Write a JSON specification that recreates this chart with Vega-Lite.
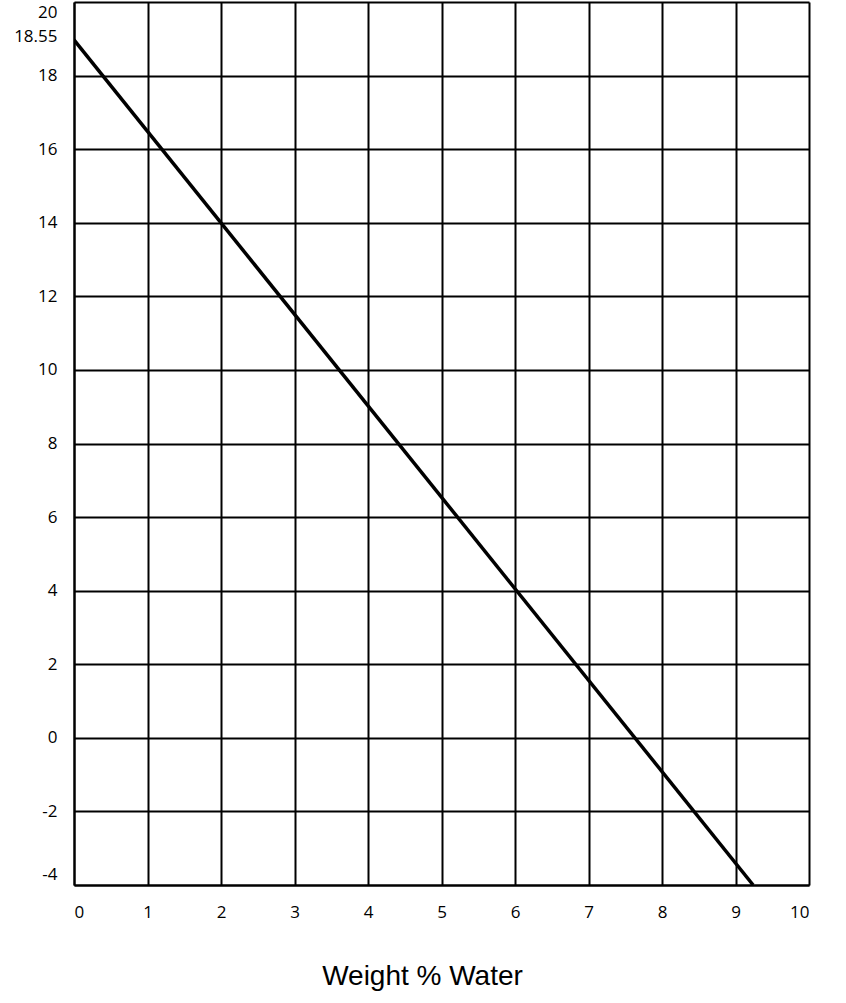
{
  "$schema": "https://vega.github.io/schema/vega-lite/v6.json",
  "autosize": "none",
  "padding": {"left": 74, "top": 2, "right": 37, "bottom": 118},
  "width": 735,
  "height": 883,
  "background": "white",
  "data": {"values": [
    {"water": 0, "value": 18.97},
    {"water": 9.24, "value": -4}
  ]},
  "config": {"view": {"stroke": null}},
  "mark": {"type": "line", "color": "black", "strokeWidth": 3.5, "clip": true},
  "encoding": {
    "x": {
      "field": "water", "type": "quantitative",
      "scale": {"domain": [0, 10], "nice": false, "zero": false},
      "axis": {
        "values": [0,1,2,3,4,5,6,7,8,9,10],
        "title": "Weight % Water",
        "titleFont": "Liberation Sans", "titleFontSize": 28, "titleFontWeight": "normal", "titleColor": "black",
        "titlePadding": 42, "titleX": 348,
        "labelFont": "Open Sans", "labelFontSize": 17, "labelColor": "black",
        "labelPadding": 19, "ticks": false,
        "domainColor": "black", "domainWidth": 2,
        "grid": true, "gridColor": "black", "gridWidth": 2, "gridOpacity": 1
      }
    },
    "y": {
      "field": "value", "type": "quantitative",
      "scale": {"domain": [-4, 20], "nice": false, "zero": false},
      "axis": {
        "values": [-4,-2,0,2,4,6,8,10,12,14,16,18,19.05,20],
        "labelExpr": "datum.value == 19.05 ? '18.55' : replace(datum.label, '−', '-')",
        "title": null,
        "labelFont": "Open Sans", "labelFontSize": 17, "labelColor": "black",
        "labelPadding": 17, "ticks": false, "labelFlush": true, "labelFlushOffset": -2,
        "domainColor": "black", "domainWidth": 2,
        "grid": true, "gridColor": "black", "gridWidth": 2,
        "gridOpacity": {"condition": {"test": "datum.value == 19.05", "value": 0}, "value": 1}
      }
    }
  }
}
